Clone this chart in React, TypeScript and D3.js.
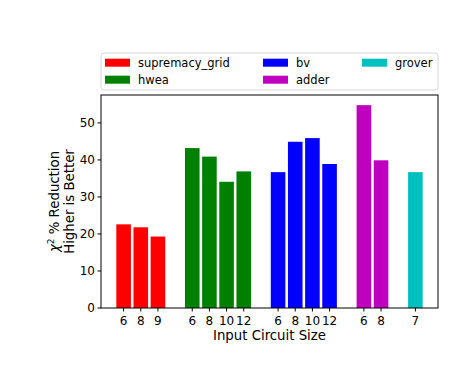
import React from "react";
import * as d3 from "d3";

const groups = ["supremacy_grid", "hwea", "bv", "adder", "grover"];
const groupColors = ["#ff0000", "#008000", "#0000ff", "#bf00bf", "#00bfbf"];
const sizes = [
  ["6", "8", "9"],
  ["6", "8", "10", "12"],
  ["6", "8", "10", "12"],
  ["6", "8"],
  ["7"],
];
const values = [
  [22.6, 21.8, 19.3],
  [43.2, 40.9, 34.1, 36.9],
  [36.7, 44.9, 45.9, 38.9],
  [54.8, 39.9],
  [36.7],
];
const yTicks = [0, 10, 20, 30, 40, 50];

const W = 474;
const H = 379;
const left = 101;
const right = 438;
const top = 95;
const bottom = 308;
const font = "DejaVu Sans, sans-serif";

export default function App() {
  const bars: { x: number; v: number; label: string; color: string }[] = [];
  let pos = 0;
  groups.forEach((g, gi) => {
    values[gi].forEach((v, i) => {
      bars.push({ x: pos, v, label: sizes[gi][i], color: groupColors[gi] });
      pos += 1;
    });
    pos += 1;
  });
  const maxX = bars[bars.length - 1].x;
  const bw = 0.85;
  const lo = -bw / 2;
  const hi = maxX + bw / 2;
  const m = (hi - lo) * 0.05;
  const x = d3.scaleLinear().domain([lo - m, hi + m]).range([left, right]);
  const maxV = d3.max(values.flat()) as number;
  const y = d3.scaleLinear().domain([0, maxV * 1.05]).range([bottom, top]);

  const legendCols = [
    [0, 1],
    [2, 3],
    [4],
  ];
  const colX = [105, 263, 362];
  const rowY = [62.5, 79.5];

  return (
    <svg
      width={W}
      height={H}
      style={{ position: "absolute", left: 0, top: 0, background: "#fff" }}
      fontFamily={font}
    >
      <rect x={0} y={0} width={W} height={H} fill="#fff" />
      <rect x={101} y={53} width={337} height={37} rx={3} fill="#fff" stroke="#d6d6d6" strokeWidth={1} />
      {legendCols.map((col, ci) =>
        col.map((gi, ri) => (
          <g key={gi}>
            <rect x={colX[ci]} y={rowY[ri] - 3.8} width={25} height={8} fill={groupColors[gi]} />
            <text x={colX[ci] + 33} y={rowY[ri]} dy="0.35em" fontSize={11.5} fill="#000">
              {groups[gi]}
            </text>
          </g>
        ))
      )}
      {bars.map((b, i) => (
        <rect
          key={i}
          x={x(b.x - bw / 2)}
          y={y(b.v)}
          width={x(bw) - x(0)}
          height={y(0) - y(b.v)}
          fill={b.color}
        />
      ))}
      <rect x={left} y={top} width={right - left} height={bottom - top} fill="none" stroke="#000" strokeWidth={1} />
      {yTicks.map((t) => (
        <g key={t}>
          <line x1={left - 3.5} x2={left} y1={y(t)} y2={y(t)} stroke="#000" />
          <text x={left - 6} y={y(t)} dy="0.35em" textAnchor="end" fontSize={12}>
            {t}
          </text>
        </g>
      ))}
      {bars.map((b, i) => (
        <g key={i}>
          <line x1={x(b.x)} x2={x(b.x)} y1={bottom} y2={bottom + 3.5} stroke="#000" />
          <text x={x(b.x)} y={bottom + 13} dy="0.35em" textAnchor="middle" fontSize={12}>
            {b.label}
          </text>
        </g>
      ))}
      <text x={(left + right) / 2} y={335} dy="0.35em" textAnchor="middle" fontSize={13.3}>
        Input Circuit Size
      </text>
      <g transform={`translate(54, ${(top + bottom) / 2}) rotate(-90)`}>
        <text textAnchor="middle" dy="0.35em" fontSize={13.3}>
          <tspan fontStyle="italic">χ</tspan>
          <tspan dy="-5" fontSize={9}>2</tspan>
          <tspan dy="5"> % Reduction</tspan>
        </text>
      </g>
      <g transform={`translate(69, ${(top + bottom) / 2}) rotate(-90)`}>
        <text textAnchor="middle" dy="0.35em" fontSize={13.3}>
          Higher is Better
        </text>
      </g>
    </svg>
  );
}
